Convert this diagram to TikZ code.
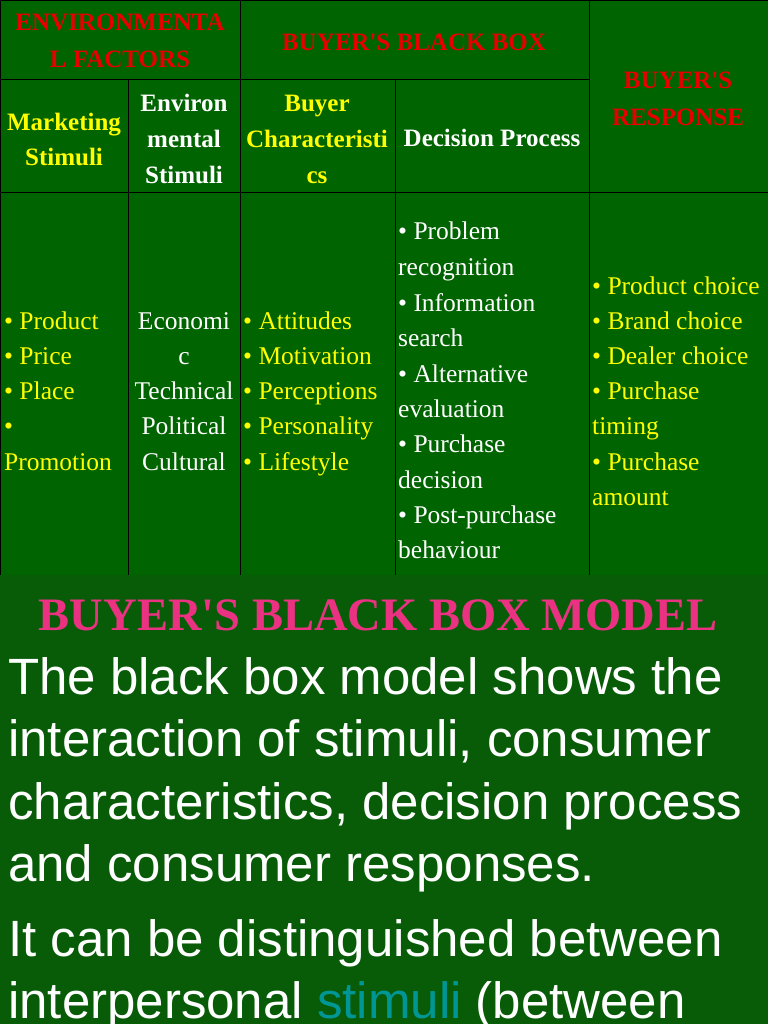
\documentclass[tikz,border=0pt]{standalone}
\usepackage{fontspec}
\setmainfont{Liberation Serif}
\newfontfamily\parafont{Liberation Sans}
\definecolor{bg}{RGB}{0,100,0}
\definecolor{bgb}{RGB}{8,92,8}
\definecolor{hred}{RGB}{230,0,0}
\definecolor{yel}{RGB}{255,255,0}
\definecolor{pinkt}{RGB}{235,50,130}
\definecolor{teal}{RGB}{0,150,150}
\begin{document}
\begin{tikzpicture}[x=1pt,y=-1pt,
  hd/.style={font=\bfseries\fontsize{25}{37}\selectfont,align=center,inner sep=0},
  it/.style={anchor=base west,font=\fontsize{25.5}{26}\selectfont,inner sep=0},
  par/.style={anchor=base west,font=\parafont\fontsize{51}{55}\selectfont,white,inner sep=0}]
\fill[bg] (0,0) rectangle (768,575);
\fill[bgb] (0,575) rectangle (768,1024);
\useasboundingbox (0,0) rectangle (768,1024);
\draw[black,line width=1pt] (0,0.5)--(768,0.5) (0,80)--(589,80) (0,193)--(768,193)
 (0.5,0)--(0.5,575) (128,80)--(128,575) (240,0)--(240,575) (395,80)--(395,575) (589,0)--(589,575);
% headers
\node[hd,hred,anchor=base] (h1) at (120,31) {ENVIRONMENTA};
\node[hd,hred,anchor=base] (h1b) at (120,68) {L FACTORS};
\node[hd,hred,anchor=base] (h2) at (414,51) {BUYER\textquotesingle S BLACK BOX};
\node[hd,hred,anchor=base] (h3) at (678,89) {BUYER\textquotesingle S};
\node[hd,hred,anchor=base] (h3b) at (678,126) {RESPONSE};
\node[hd,yel,anchor=base] (m1) at (64,131) {Marketing};
\node[hd,yel,anchor=base] (m2) at (64,166) {Stimuli};
\node[hd,white,anchor=base] (e1) at (184,112) {Environ};
\node[hd,white,anchor=base] (e2) at (184,148) {mental};
\node[hd,white,anchor=base] (e3) at (184,184) {Stimuli};
\node[hd,yel,anchor=base] (b1) at (317,112) {Buyer};
\node[hd,yel,anchor=base] (b2) at (317,148) {Characteristi};
\node[hd,yel,anchor=base] (b3) at (317,184) {cs};
\node[hd,white,anchor=base] (d1) at (492,147) {Decision Process};
\begin{scope}[every node/.append style={it,yel}]
\node (c1a) at (4,329) {•\ Product};
\node (c1b) at (4,364) {•\ Price};
\node (c1c) at (4,399) {•\ Place};
\node (c1d) at (4,434) {•};
\node (c1e) at (4,470) {Promotion};
\node (c3a) at (243,329) {•\ Attitudes};
\node (c3b) at (243,364) {•\ Motivation};
\node (c3c) at (243,399) {•\ Perceptions};
\node (c3d) at (243,434) {•\ Personality};
\node (c3e) at (243,470) {•\ Lifestyle};
\node (c5a) at (592,294) {•\ Product choice};
\node (c5b) at (592,329) {•\ Brand choice};
\node (c5c) at (592,364) {•\ Dealer choice};
\node (c5d) at (592,399) {•\ Purchase};
\node (c5e) at (592,434) {timing};
\node (c5f) at (592,470) {•\ Purchase};
\node (c5g) at (592,505) {amount};
\end{scope}
\begin{scope}[every node/.append style={it,white,anchor=base}]
\node (c2a) at (184,329) {Economi};
\node (c2b) at (184,364) {c};
\node (c2c) at (184,399) {Technical};
\node (c2d) at (184,434) {Political};
\node (c2e) at (184,470) {Cultural};
\end{scope}
\begin{scope}[every node/.append style={it,white}]
\node (c4a) at (398,240) {•\ Problem};
\node (c4b) at (398,275) {recognition};
\node (c4c) at (398,311) {•\ Information};
\node (c4d) at (398,346) {search};
\node (c4e) at (398,382) {•\ Alternative};
\node (c4f) at (398,417) {evaluation};
\node (c4g) at (398,452) {•\ Purchase};
\node (c4h) at (398,488) {decision};
\node (c4i) at (398,523) {•\ Post-purchase};
\node (c4j) at (398,558) {behaviour};
\end{scope}
\node[anchor=base,pinkt,font=\bfseries\fontsize{46.5}{50}\selectfont,inner sep=0] (title) at (378,630) {BUYER\textquotesingle S BLACK BOX MODEL};
\node[par] (p1) at (8,694) {The black box model shows the};
\node[par] (p2) at (8,756) {interaction of stimuli, consumer};
\node[par] (p3) at (8,819) {characteristics, decision process};
\node[par] (p4) at (8,881) {and consumer responses.};
\node[par] (p5) at (8,956) {It can be distinguished between};
\node[par] (p6) at (8,1018) {interpersonal \textcolor{teal}{stimuli} (between};
\end{tikzpicture}
\end{document}
